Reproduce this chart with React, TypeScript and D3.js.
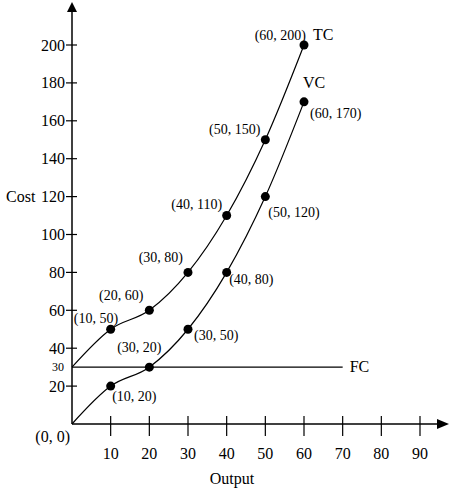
import React from "react";
import * as d3 from "d3";

const outputs = [0, 10, 20, 30, 40, 50, 60];
const tcValues = [30, 50, 60, 80, 110, 150, 200];
const vcValues = [0, 20, 30, 50, 80, 120, 170];
const fcValue = 30;
const fcEnd = 70;
const xTicks = [10, 20, 30, 40, 50, 60, 70, 80, 90];
const yTicks = [20, 40, 60, 80, 100, 120, 140, 160, 180, 200];
const tcLabels = ["", "(10, 50)", "(20, 60)", "(30, 80)", "(40, 110)", "(50, 150)", "(60, 200)"];
const vcLabels = ["", "(10, 20)", "(30, 20)", "(30, 50)", "(40, 80)", "(50, 120)", "(60, 170)"];

// label layout (anchor, dx, dy) relative to dot
const tcLayout: [string, number, number][] = [
  ["end", 0, 0],
  ["end", 7.5, -6],
  ["end", -6, -10],
  ["end", -5, -10],
  ["end", -4.5, -6.5],
  ["end", -5, -6],
  ["end", 2, -5],
];
const vcLayout: [string, number, number][] = [
  ["start", 0, 0],
  ["start", 1.5, 15],
  ["middle", -10, -15.5],
  ["start", 6, 11],
  ["start", 2.5, 11.5],
  ["start", 3, 20],
  ["start", 6, 16],
];

const W = 450;
const H = 501;
const FONT = "'Liberation Serif', 'Times New Roman', serif";

export default function App() {
  const x = d3.scaleLinear().domain([0, 90]).range([72, 420]);
  const y = d3.scaleLinear().domain([0, 200]).range([424, 45]);
  const x0 = x(0);
  const y0 = y(0);

  const line = d3
    .line<number>()
    .x((_, i) => x(outputs[i]))
    .y((d) => d)
    .curve(d3.curveMonotoneX);

  const tcPath = line(tcValues.map((v) => y(v))) || "";
  const vcPath = line(vcValues.map((v) => y(v))) || "";

  return (
    <svg
      width={W}
      height={H}
      style={{ position: "absolute", left: 0, top: 0, background: "#fff" }}
      fontFamily={FONT}
    >
      <rect width={W} height={H} fill="#fff" />
      {/* axes */}
      <line x1={x0} y1={y0} x2={x0} y2={10} stroke="#000" strokeWidth={1.5} />
      <path d={`M${x0},2 L${x0 - 5},12 L${x0 + 5},12 Z`} fill="#000" />
      <line x1={x0} y1={y0} x2={440} y2={y0} stroke="#000" strokeWidth={1.5} />
      <path d={`M449,${y0} L437,${y0 - 5} L437,${y0 + 5} Z`} fill="#000" />

      {/* y ticks */}
      {yTicks.map((t) => (
        <g key={"y" + t}>
          <line x1={x0 - 6} x2={x0 + 5} y1={y(t)} y2={y(t)} stroke="#000" strokeWidth={1.2} />
          <text x={x0 - 7} y={y(t) + 5.5} fontSize={16} textAnchor="end">
            {t}
          </text>
        </g>
      ))}
      <text x={x0 - 8} y={y(fcValue) + 4} fontSize={12} textAnchor="end">
        {fcValue}
      </text>
      <text x={6} y={y(120) + 5.5} fontSize={16}>
        Cost
      </text>

      {/* x ticks */}
      {xTicks.map((t) => (
        <g key={"x" + t}>
          <line x1={x(t)} x2={x(t)} y1={y0 - 8} y2={y0 + 12} stroke="#000" strokeWidth={1.2} />
          <text x={x(t)} y={y0 + 35} fontSize={16} textAnchor="middle">
            {t}
          </text>
        </g>
      ))}
      <text x={70} y={y0 + 18} fontSize={16} textAnchor="end">
        (0, 0)
      </text>
      <text x={232} y={y0 + 60} fontSize={16} textAnchor="middle">
        Output
      </text>

      {/* FC */}
      <line x1={x0} x2={x(fcEnd)} y1={y(fcValue)} y2={y(fcValue)} stroke="#000" strokeWidth={1.2} />
      <text x={x(fcEnd) + 7} y={y(fcValue) + 5} fontSize={16}>
        FC
      </text>

      {/* curves */}
      <path d={tcPath} fill="none" stroke="#000" strokeWidth={1.2} />
      <path d={vcPath} fill="none" stroke="#000" strokeWidth={1.2} />

      {outputs.map((o, i) =>
        i === 0 ? null : (
          <g key={"tc" + o}>
            <circle cx={x(o)} cy={y(tcValues[i])} r={4.5} fill="#000" />
            <text
              x={x(o) + tcLayout[i][1]}
              y={y(tcValues[i]) + tcLayout[i][2]}
              fontSize={14}
              textAnchor={tcLayout[i][0] as any}
            >
              {tcLabels[i]}
            </text>
          </g>
        )
      )}
      {outputs.map((o, i) =>
        i === 0 ? null : (
          <g key={"vc" + o}>
            <circle cx={x(o)} cy={y(vcValues[i])} r={4.5} fill="#000" />
            <text
              x={x(o) + vcLayout[i][1]}
              y={y(vcValues[i]) + vcLayout[i][2]}
              fontSize={14}
              textAnchor={vcLayout[i][0] as any}
            >
              {vcLabels[i]}
            </text>
          </g>
        )
      )}
      <text x={x(60) + 9} y={y(200) - 5} fontSize={16}>
        TC
      </text>
      <text x={x(60) - 1} y={y(170) - 14} fontSize={16}>
        VC
      </text>
    </svg>
  );
}
